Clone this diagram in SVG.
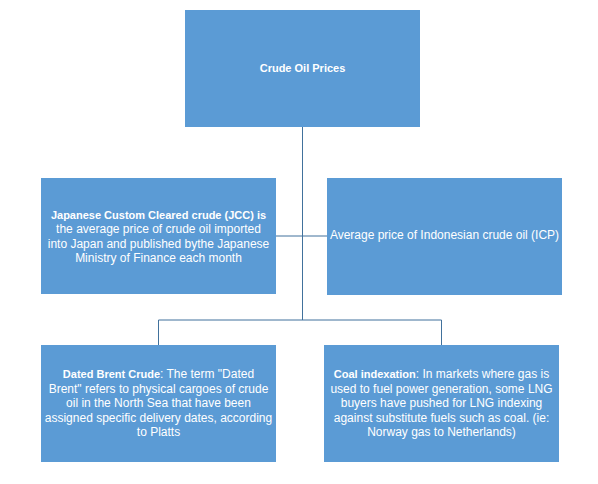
<svg xmlns="http://www.w3.org/2000/svg" width="598" height="484" viewBox="0 0 598 484">
<style>
.box{fill:#5B9BD5;}
.t{font-family:"Liberation Sans",Arial,sans-serif;font-size:12px;fill:#FFFFFF;text-anchor:middle;}
.b{font-weight:bold;font-size:11px;}
.c{fill:none;stroke:#41719C;stroke-width:1;}
</style>
<rect width="598" height="484" fill="#FFFFFF"/>
<g id="connectors">
<path class="c" d="M302.5 127 V320"/>
<path class="c" d="M276 236 H327"/>
<path class="c" d="M158.5 320 H441.5"/>
<path class="c" d="M158.5 320 V345"/>
<path class="c" d="M441.5 320 V345"/>
</g>
<g id="crude-oil-prices">
<rect class="box" x="185" y="10" width="235" height="117"/>
<text class="t b" x="302.5" y="72">Crude Oil Prices</text>
</g>
<g id="jcc">
<rect class="box" x="41" y="178" width="235" height="116"/>
<text class="t" x="158.5" y="218.5"><tspan class="b">Japanese Custom Cleared crude (JCC) is</tspan></text>
<text class="t" x="158.5" y="233">the average price of crude oil imported</text>
<text class="t" x="158.5" y="247.5">into Japan and published bythe Japanese</text>
<text class="t" x="158.5" y="262">Ministry of Finance each month</text>
</g>
<g id="icp">
<rect class="box" x="327" y="178" width="235" height="117"/>
<text class="t" x="444.5" y="239">Average price of Indonesian crude oil (ICP)</text>
</g>
<g id="dated-brent">
<rect class="box" x="41" y="345" width="235" height="117"/>
<text class="t" x="158.5" y="378"><tspan class="b">Dated Brent Crude</tspan>: The term "Dated</text>
<text class="t" x="158.5" y="392.5">Brent" refers to physical cargoes of crude</text>
<text class="t" x="158.5" y="407">oil in the North Sea that have been</text>
<text class="t" x="158.5" y="421.5">assigned specific delivery dates, according</text>
<text class="t" x="158.5" y="436">to Platts</text>
</g>
<g id="coal-indexation">
<rect class="box" x="324" y="345" width="235" height="117"/>
<text class="t" x="441.5" y="378"><tspan class="b">Coal indexation</tspan>: In markets where gas is</text>
<text class="t" x="441.5" y="392.5">used to fuel power generation, some LNG</text>
<text class="t" x="441.5" y="407">buyers have pushed for LNG indexing</text>
<text class="t" x="441.5" y="421.5">against substitute fuels such as coal. (ie:</text>
<text class="t" x="441.5" y="436">Norway gas to Netherlands)</text>
</g>
</svg>
